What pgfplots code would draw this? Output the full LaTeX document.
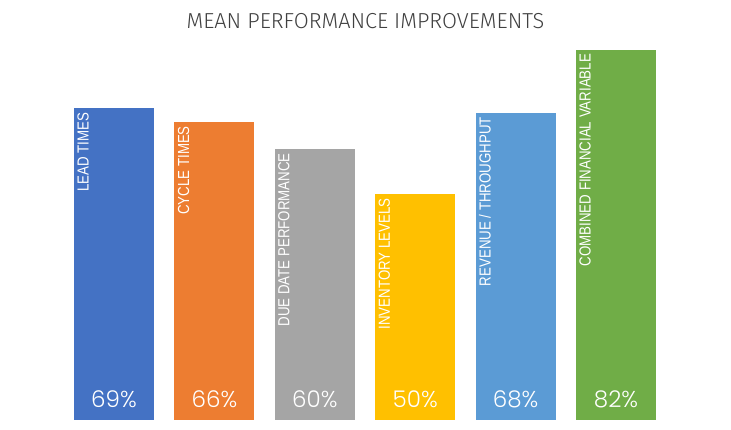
\documentclass[border=0pt]{standalone}
\usepackage{pgfplots}
\pgfplotsset{compat=1.18}
\usepackage{fontspec}
\setmainfont{Liberation Sans}
\newfontfamily\labelfont[FakeStretch=0.83]{Liberation Sans}
\newfontfamily\titlefont{Fira Sans Light}
\newfontfamily\pctfont{Poppins Light}
\definecolor{c1}{HTML}{4472C4}
\definecolor{c2}{HTML}{ED7D31}
\definecolor{c3}{HTML}{A5A5A5}
\definecolor{c4}{HTML}{FFC000}
\definecolor{c5}{HTML}{5B9BD5}
\definecolor{c6}{HTML}{70AD47}
\definecolor{titlecol}{HTML}{404040}
\begin{document}
\begin{tikzpicture}
\begin{axis}[
  scale only axis, width=731pt, height=430pt,
  xmin=-1.1355, xmax=6.1454, ymin=-2.215, ymax=93.02,
  hide axis, ybar, bar width=80pt, bar shift=0pt, clip=false,
]
\addplot[fill=c1, draw=none] coordinates {(0,69)};
\addplot[fill=c2, draw=none] coordinates {(1,66)};
\addplot[fill=c3, draw=none] coordinates {(2,60)};
\addplot[fill=c4, draw=none] coordinates {(3,50)};
\addplot[fill=c5, draw=none] coordinates {(4,68)};
\addplot[fill=c6, draw=none] coordinates {(5,82)};
\path (rel axis cs:0,0) rectangle (rel axis cs:1,1);
\tikzset{lab/.style={rotate=90, anchor=north east, inner sep=0pt, text=white, font=\labelfont\fontsize{16}{16}\selectfont},
  pct/.style={text=white, inner sep=0pt, font=\pctfont\fontsize{23}{23}\selectfont}}
\node[lab] at ([xshift=-36.7pt, yshift=-4pt]axis cs:0,69) {LEAD TIMES};
\node[lab] at ([xshift=-36.7pt, yshift=-4pt]axis cs:1,66) {CYCLE TIMES};
\node[lab] at ([xshift=-36.7pt, yshift=-4pt]axis cs:2,60) {DUE DATE PERFORMANCE};
\node[lab] at ([xshift=-36.7pt, yshift=-4pt]axis cs:3,50) {INVENTORY LEVELS};
\node[lab] at ([xshift=-36.7pt, yshift=-4pt]axis cs:4,68) {REVENUE / THROUGHPUT};
\node[lab] at ([xshift=-36.7pt, yshift=-4pt]axis cs:5,82) {COMBINED FINANCIAL VARIABLE};
\node[pct] at ([yshift=20.5pt]axis cs:0,0) {69\%};
\node[pct] at ([yshift=20.5pt]axis cs:1,0) {66\%};
\node[pct] at ([yshift=20.5pt]axis cs:2,0) {60\%};
\node[pct] at ([yshift=20.5pt]axis cs:3,0) {50\%};
\node[pct] at ([yshift=20.5pt]axis cs:4,0) {68\%};
\node[pct] at ([yshift=20.5pt]axis cs:5,0) {82\%};
\node[inner sep=0pt, text=titlecol, font=\titlefont\fontsize{21.7}{21.7}\selectfont] at (rel axis cs:0.5,0.95) {MEAN PERFORMANCE IMPROVEMENTS};
\end{axis}
\end{tikzpicture}
\end{document}
